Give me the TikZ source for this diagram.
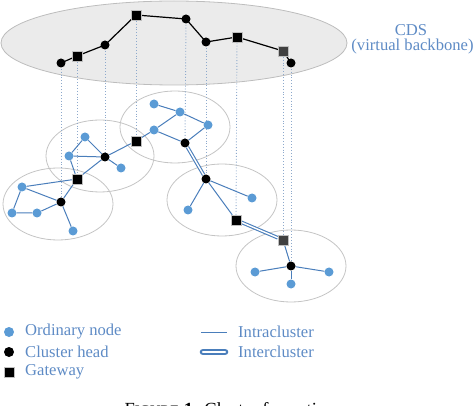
\documentclass[tikz,border=0pt]{standalone}
\usepackage{fontspec}
\setmainfont{Liberation Serif}
\definecolor{ordblue}{HTML}{5B9BD5}
\definecolor{edgeblue}{HTML}{4A7EBB}
\definecolor{dotblue}{HTML}{8DA9CC}
\definecolor{clgrey}{HTML}{C4C4C4}
\definecolor{cdsfill}{HTML}{EBEBEB}
\definecolor{cdsline}{HTML}{BDBDBD}
\definecolor{txtblue}{HTML}{5E8BC5}
\definecolor{gwgrey}{HTML}{404040}
\pgfdeclarelayer{back}
\pgfdeclarelayer{mid}
\pgfsetlayers{back,mid,main}
\begin{document}
\begin{tikzpicture}[x=1pt,y=-1pt,
  ord/.style={circle,fill=ordblue,inner sep=0,minimum size=9pt},
  head/.style={circle,fill=black,inner sep=0,minimum size=9pt},
  gw/.style={rectangle,fill=black,draw=gray!50,line width=0.4pt,inner sep=0,minimum size=10pt},
  gwg/.style={gw,fill=gwgrey},
  intra/.style={draw=edgeblue,line width=1pt},
  inter/.style={draw=edgeblue,double=white,double distance=1.4pt,line width=1.1pt},
  cl/.style={draw=clgrey,line width=0.8pt},
  vdot/.style={draw=dotblue,dotted,line width=0.9pt},
  cdsl/.style={draw=black,line width=1.2pt},
  lbl/.style={text=txtblue,font=\fontsize{16.6}{18}\selectfont,anchor=west,inner sep=0}]
\useasboundingbox (0,0) rectangle (474,406);
\clip (0,0) rectangle (474,406);

% CDS nodes
\node[head] (c1) at (61,63) {};
\node[gw]   (c2) at (77,56) {};
\node[head] (c3) at (105,45) {};
\node[gw]   (c4) at (136,15) {};
\node[head] (c5) at (186,19) {};
\node[head] (c6) at (206,42) {};
\node[gw]   (c7) at (237,37) {};
\node[gwg]  (c8) at (283,51) {};
\node[head] (c9) at (291,63) {};

% cluster heads and gateways
\node[head] (h1) at (61,202) {};
\node[gw]   (g1) at (77,179) {};
\node[head] (h2) at (105,157) {};
\node[gw]   (g2) at (136,141) {};
\node[head] (h3) at (185,143) {};
\node[head] (h4) at (206,179) {};
\node[gw]   (g3) at (236,220) {};
\node[gwg]  (g4) at (283,240) {};
\node[head] (h5) at (291,266) {};

% ordinary nodes
\node[ord] (a1) at (22,187) {};
\node[ord] (a2) at (12,213) {};
\node[ord] (a3) at (37,213) {};
\node[ord] (a4) at (73,231) {};
\node[ord] (b1) at (85,137) {};
\node[ord] (b2) at (69,156) {};
\node[ord] (b3) at (121,168) {};
\node[ord] (d1) at (154,104) {};
\node[ord] (d2) at (180,112) {};
\node[ord] (d3) at (208,125) {};
\node[ord] (d4) at (154,130) {};
\node[ord] (e1) at (252,198) {};
\node[ord] (e2) at (188,210) {};
\node[ord] (f1) at (255,272) {};
\node[ord] (f2) at (329,272) {};
\node[ord] (f3) at (291,284) {};

\begin{pgfonlayer}{back}
  \draw[draw=cdsline,fill=cdsfill,line width=0.8pt] (174,43) ellipse [x radius=173,y radius=42];
  \draw[cl] (58,204) ellipse [x radius=55,y radius=36];
  \draw[cl] (100,156) ellipse [x radius=54,y radius=36];
  \draw[cl] (175,127) ellipse [x radius=55,y radius=36];
  \draw[cl] (222,200) ellipse [x radius=55,y radius=36];
  \draw[cl] (291,266) ellipse [x radius=55,y radius=36];
\end{pgfonlayer}

\begin{pgfonlayer}{mid}
  % vertical projections
  \draw[vdot] (c1.center) -- (h1.center);
  \draw[vdot] (c2.center) -- (g1.center);
  \draw[vdot] (c3.center) -- (h2.center);
  \draw[vdot] (c4.center) -- (g2.center);
  \draw[vdot] (c5.center) -- (h3.center);
  \draw[vdot] (c6.center) -- (h4.center);
  \draw[vdot] (c7.center) -- (g3.center);
  \draw[vdot] (c8.center) -- (g4.center);
  \draw[vdot] (c9.center) -- (h5.center);
  % backbone
  \draw[cdsl] (c1.center) -- (c2.center) -- (c3.center) -- (c4.center) -- (c5.center)
     -- (c6.center) -- (c7.center) -- (c8.center) -- (c9.center);
  % cluster 1
  \draw[intra] (h1) -- (a1) -- (a2) -- (a3) -- (h1);
  \draw[intra] (h1) -- (a4);
  \draw[intra] (h1) -- (g1);
  \draw[intra] (a1) -- (g1);
  % cluster 2
  \draw[intra] (h2) -- (b1) -- (b2) -- (h2);
  \draw[intra] (b2) -- (g1);
  \draw[intra] (h2) -- (g1);
  \draw[intra] (h2) -- (b3);
  \draw[intra] (h2) -- (g2);
  % cluster 3
  \draw[intra] (d1) -- (d2) -- (d3) -- (h3);
  \draw[intra] (d2) -- (d4) -- (h3);
  \draw[intra] (d4) -- (g2);
  % cluster 4
  \draw[intra] (h4) -- (e1);
  \draw[intra] (h4) -- (e2);
  \draw[intra] (h4) -- (g3);
  % cluster 5
  \draw[intra] (g4) -- (h5);
  \draw[intra] (h5) -- (f1);
  \draw[intra] (h5) -- (f2);
  \draw[intra] (h5) -- (f3);
  % intercluster
  \draw[inter] (h3) -- (h4);
  \draw[inter] (g3) -- (g4);
\end{pgfonlayer}

% CDS label
\node[text=txtblue,font=\fontsize{16.6}{18}\selectfont,inner sep=0] (cdst) at (411,30) {CDS};
\node[text=txtblue,font=\fontsize{16.6}{18}\selectfont,inner sep=0] (cdsb) at (412.5,47) {(virtual backbone)};

% legend
\node[ord,minimum size=10pt]  (l1) at (9,332) {};
\node[head,minimum size=10pt] (l2) at (9,352) {};
\node[gw]   (l3) at (9,372) {};
\node[lbl] (t1) at (25,332) {Ordinary node};
\node[lbl] (t2) at (25,352) {Cluster head};
\node[lbl] (t3) at (25,372) {Gateway};
\coordinate (m1a) at (201,332);
\coordinate (m1b) at (227,332);
\coordinate (m2a) at (203,352);
\coordinate (m2b) at (225,352);
\draw[intra] (m1a) -- (m1b);
\draw[draw=edgeblue,double=white,double distance=2.2pt,line width=2.2pt,line cap=round] (m2a) -- (m2b);
\node[lbl] (t4) at (238,332) {Intracluster};
\node[lbl] (t5) at (238,352) {Intercluster};

% caption (cut off at the bottom, as in the reference)
\node[anchor=base,inner sep=0,font=\fontsize{18.5}{20}\selectfont] (cap) at (230,415.5)
  {F{\fontsize{14.5}{16}\selectfont IGURE} \textbf{1}: Cluster formation};
\end{tikzpicture}
\end{document}
